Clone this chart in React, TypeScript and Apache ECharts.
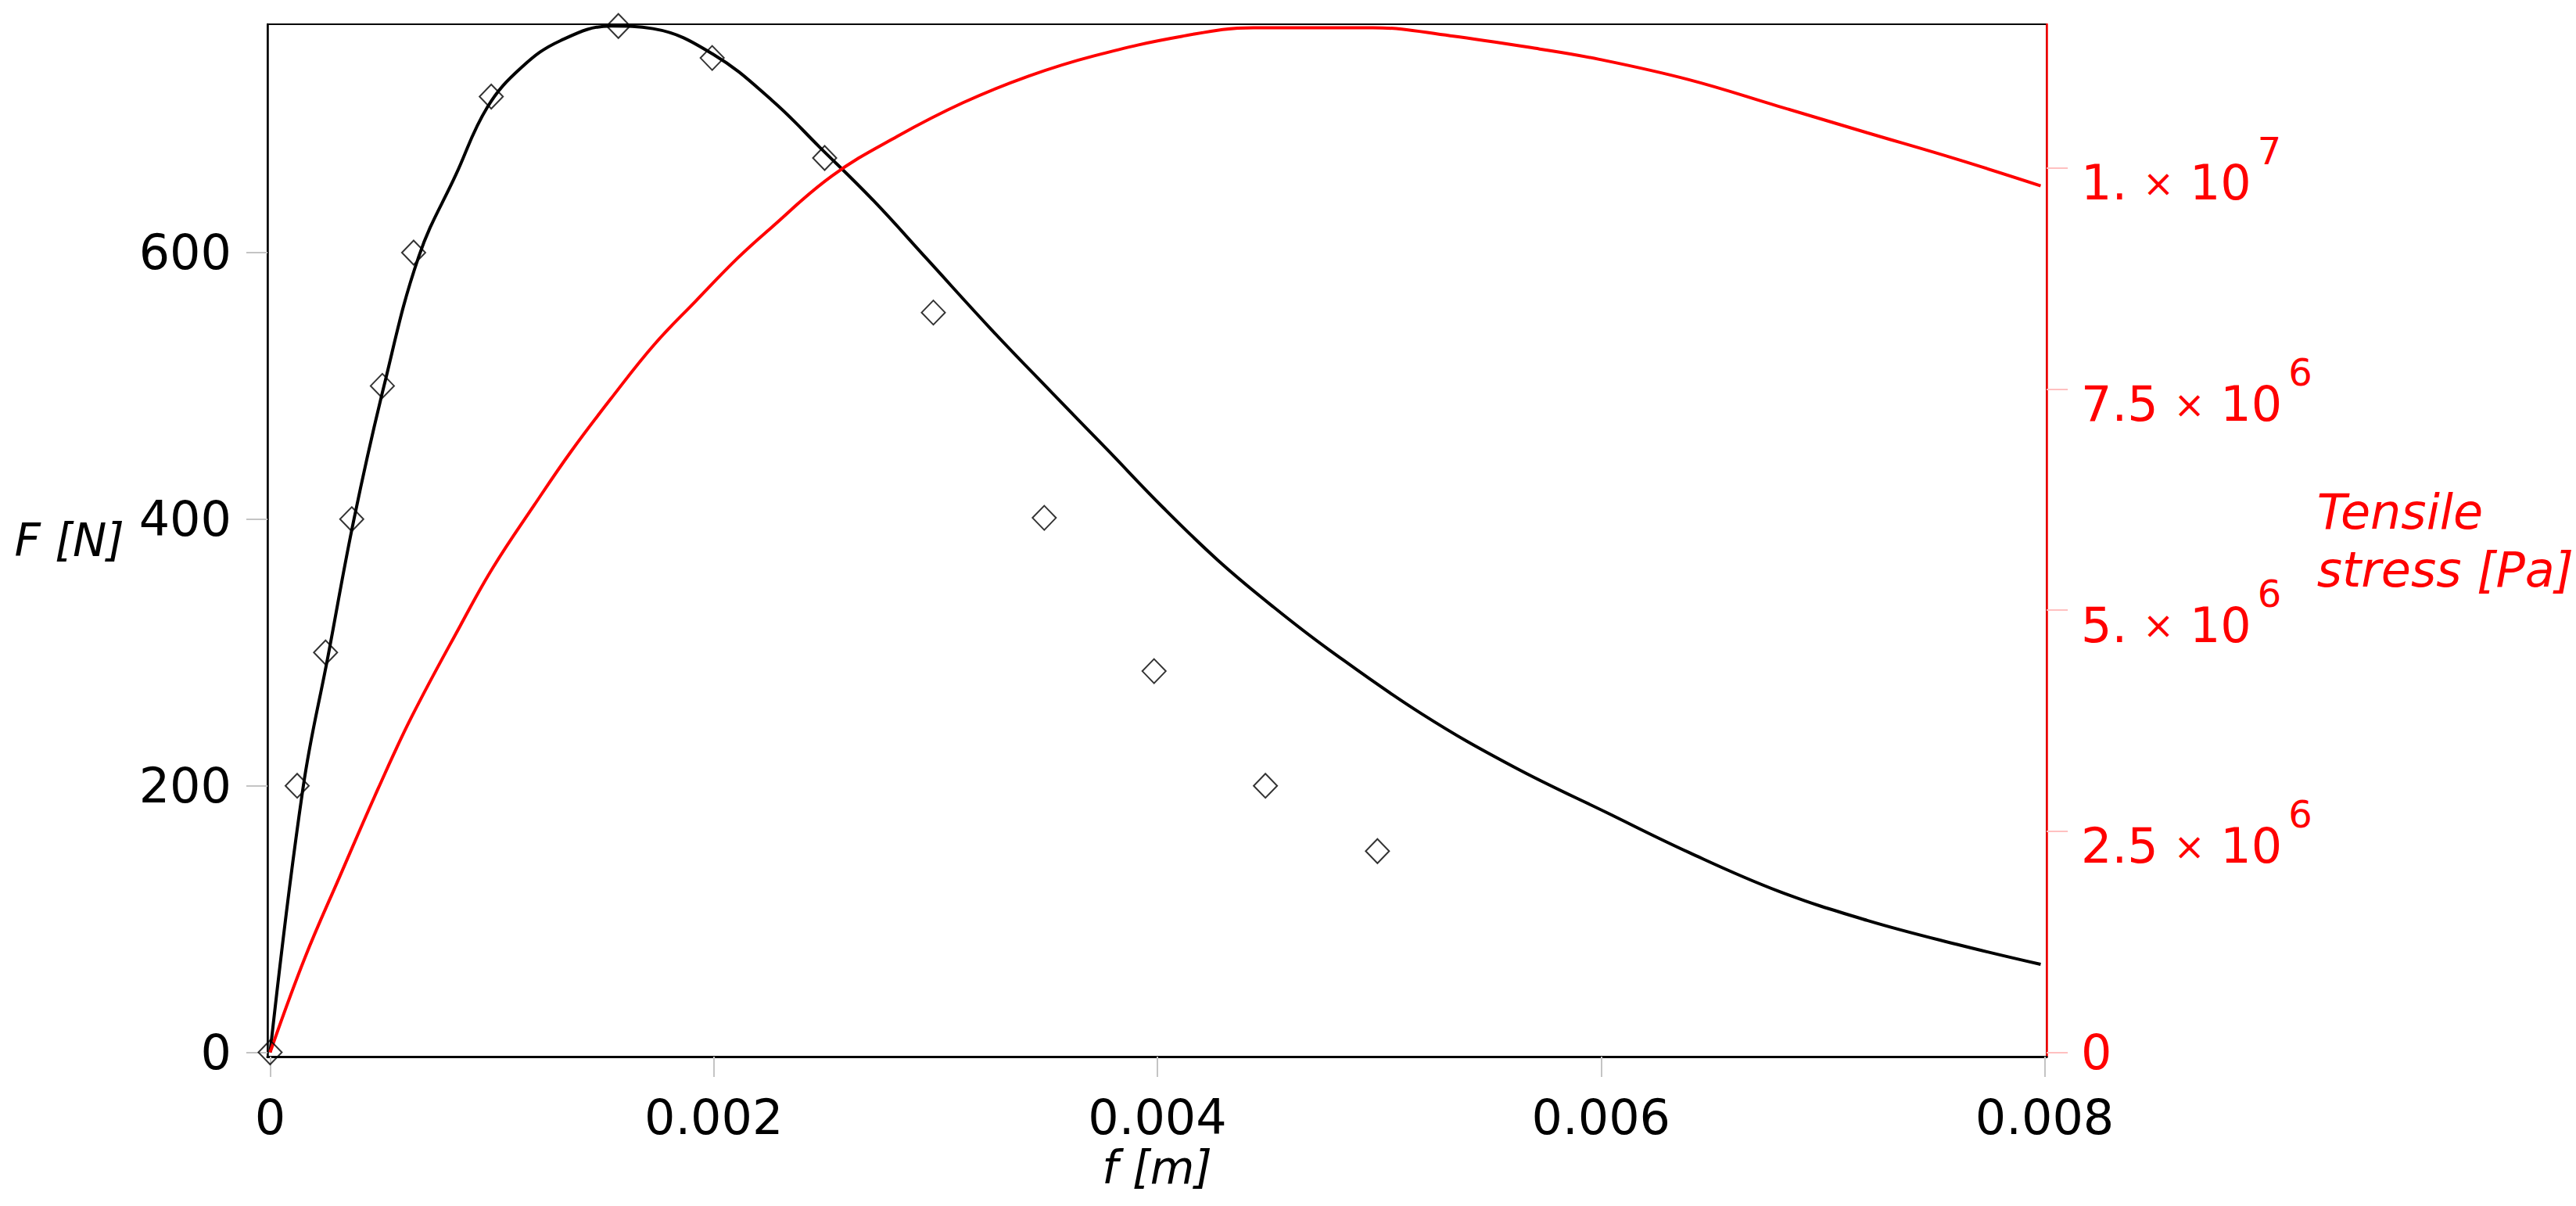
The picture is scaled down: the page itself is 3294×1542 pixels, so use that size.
import React, { useEffect, useRef } from 'react';
import * as echarts from 'echarts';

const xTicks = [0, 0.002, 0.004, 0.006, 0.008];
const xTickLabels = ['0', '0.002', '0.004', '0.006', '0.008'];
const leftTicks = [0, 200, 400, 600];
const leftTickLabels = ['0', '200', '400', '600'];
const rightTicks = [0, 2.5e6, 5e6, 7.5e6, 1e7];
const rightTickMantissa = ['0', '2.5', '5.', '7.5', '1.'];
const rightTickExponent = ['', '6', '6', '6', '7'];

// measured force points (diamonds)
const measuredX = [0, 0.000122, 0.00025, 0.000368, 0.000506, 0.000647, 0.000997, 0.00157, 0.001993, 0.0025, 0.00299, 0.00349, 0.003985, 0.004487, 0.004992];
const measuredF = [0, 200, 300, 400, 500, 600, 717, 770, 746, 671, 555, 401, 286, 200, 151];

// model force curve (black)
const modelX = [0, 0.000149, 0.000262, 0.000378, 0.000512, 0.00067, 0.000839, 0.000979, 0.001134, 0.001309, 0.001538, 0.001726, 0.001995, 0.002264, 0.002478, 0.00272, 0.002962, 0.003253, 0.003524, 0.003775, 0.004024, 0.004274, 0.004524, 0.004774, 0.005191, 0.005608, 0.006024, 0.006396, 0.006799, 0.0072, 0.007605, 0.007982];
const modelF = [0, 199, 298, 400, 499, 597, 659, 709, 739, 759, 770, 768, 749, 714, 679, 639, 595, 542, 495, 452, 409, 369, 334, 302, 254, 214, 180, 150, 121, 99, 81, 66];

// tensile stress curve (red, right axis)
const stressX = [0, 0.000156, 0.000316, 0.000488, 0.000636, 0.000858, 0.001003, 0.001191, 0.001358, 0.001545, 0.001732, 0.00192, 0.002108, 0.00225, 0.002532, 0.002828, 0.003124, 0.003419, 0.003715, 0.00411, 0.004434, 0.004971, 0.00532, 0.005724, 0.005992, 0.006396, 0.006799, 0.0072, 0.007605, 0.007982];
const stressPa = [0, 1.064e6, 2.0e6, 2.988e6, 3.784e6, 4.828e6, 5.475e6, 6.19e6, 6.80e6, 7.42e6, 8.005e6, 8.50e6, 8.983e6, 9.306e6, 9.91e6, 10.36e6, 10.74e6, 11.04e6, 11.27e6, 11.49e6, 11.588e6, 11.588e6, 11.497e6, 11.347e6, 11.23e6, 11.0e6, 10.70e6, 10.40e6, 10.1e6, 9.80e6];

const FONT = 'DejaVu Sans';

function findIdx(arr: number[], v: number, eps: number) {
  return arr.findIndex((t) => Math.abs(t - v) < eps);
}

export default function App() {
  const ref = useRef<HTMLDivElement>(null);
  useEffect(() => {
    document.documentElement.style.overflow = 'hidden';
    document.body.style.margin = '0';
    document.body.style.overflow = 'hidden';
    if (!ref.current) return;
    const chart = echarts.init(ref.current, undefined, { renderer: 'svg' });
    const zip = (xs: number[], ys: number[]) => xs.map((x, i) => [x, ys[i]]);
    const red = '#ff0000';
    chart.setOption({
      animation: false,
      backgroundColor: '#ffffff',
      grid: {
        left: 342,
        right: 670,
        top: 31,
        bottom: 191,
        show: true,
        borderColor: '#000000',
        borderWidth: 2,
        backgroundColor: 'transparent',
      },
      xAxis: {
        type: 'value',
        min: -0.000012,
        max: 0.008009,
        name: 'f [m]',
        nameLocation: 'middle',
        nameGap: 112,
        nameTextStyle: { fontFamily: FONT, fontStyle: 'italic', fontSize: 58, color: '#000' },
        axisLine: { show: true, onZero: false, lineStyle: { color: '#000', width: 3 } },
        axisTick: { show: true, inside: false, length: 26, customValues: xTicks, lineStyle: { color: '#c4c4c4', width: 2 } },
        axisLabel: {
          customValues: xTicks,
          margin: 46,
          fontFamily: FONT,
          fontSize: 62,
          color: '#000',
          formatter: (v: number) => {
            const i = findIdx(xTicks, v, 1e-9);
            return i >= 0 ? xTickLabels[i] : '';
          },
        },
        splitLine: { show: false },
      },
      yAxis: [
        {
          type: 'value',
          position: 'left',
          min: -3.2,
          max: 771.3,
          name: 'F [N]',
          nameLocation: 'middle',
          nameRotate: 0,
          nameGap: 183,
          nameTextStyle: { fontFamily: FONT, fontStyle: 'italic', fontSize: 58, color: '#000' },
          axisLine: { show: true, onZero: false, lineStyle: { color: '#000', width: 2.5 } },
          axisTick: { show: true, inside: false, length: 27, customValues: leftTicks, lineStyle: { color: '#c4c4c4', width: 2 } },
          axisLabel: {
            customValues: leftTicks,
            margin: 46,
            fontFamily: FONT,
            fontSize: 62,
            color: '#000',
            formatter: (v: number) => {
              const i = findIdx(leftTicks, v, 1e-6);
              return i >= 0 ? leftTickLabels[i] : '';
            },
          },
          splitLine: { show: false },
        },
        {
          type: 'value',
          position: 'right',
          min: -48600,
          max: 11627000,
          name: 'Tensile\nstress [Pa]',
          nameLocation: 'middle',
          nameRotate: 0,
          nameGap: 306,
          nameTextStyle: { fontFamily: FONT, fontStyle: 'italic', fontSize: 62, color: red, lineHeight: 74, align: 'left' },
          axisLine: { show: true, onZero: false, lineStyle: { color: red, width: 2.5 } },
          axisTick: { show: true, inside: false, length: 27, customValues: rightTicks, lineStyle: { color: '#ffc0c0', width: 2 } },
          axisLabel: {
            customValues: rightTicks,
            margin: 44,
            fontFamily: FONT,
            fontSize: 62,
            color: red,
            formatter: (v: number) => {
              const i = findIdx(rightTicks, v, 1);
              if (i < 0) return '';
              if (!rightTickExponent[i]) return '{z|' + rightTickMantissa[i] + '}';
              return '{m|' + rightTickMantissa[i] + ' }{x|×}{m| 10}{s|' + rightTickExponent[i] + '}';
            },
            rich: {
              z: { fontFamily: FONT, fontSize: 62, color: red },
              m: { fontFamily: FONT, fontSize: 62, color: red, lineHeight: 62, padding: [38, 0, 0, 0] },
              x: { fontFamily: FONT, fontSize: 48, color: red, lineHeight: 48, padding: [38, 0, 0, 0] },
              s: { fontFamily: FONT, fontSize: 48, color: red, lineHeight: 48, padding: [0, 0, 43, 8] },
            },
          },
          splitLine: { show: false },
        },
      ],
      series: [
        {
          type: 'line',
          name: 'model',
          data: zip(modelX, modelF),
          yAxisIndex: 0,
          showSymbol: false,
          smooth: 0.4,
          lineStyle: { color: '#000', width: 4 },
          z: 2,
        },
        {
          type: 'scatter',
          name: 'measured',
          data: zip(measuredX, measuredF),
          yAxisIndex: 0,
          symbol: 'diamond',
          symbolSize: [30, 31],
          itemStyle: { color: 'transparent', borderColor: '#000', borderWidth: 2 },
          z: 3,
        },
        {
          type: 'line',
          name: 'stress',
          data: zip(stressX, stressPa),
          yAxisIndex: 1,
          showSymbol: false,
          smooth: 0.4,
          lineStyle: { color: red, width: 4 },
          z: 2,
        },
      ],
    });
    return () => chart.dispose();
  }, []);
  return (
    <div
      ref={ref}
      style={{ position: 'fixed', left: 0, top: 0, width: 3294, height: 1542, background: '#fff' }}
    />
  );
}
